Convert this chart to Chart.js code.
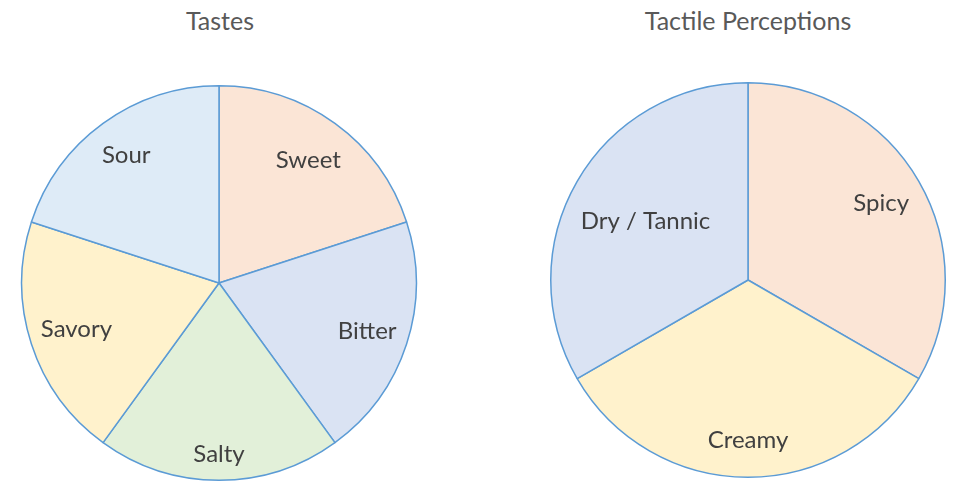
<!DOCTYPE html>
<html>
<head>
<meta charset="UTF-8">
<script src="https://cdn.jsdelivr.net/npm/chart.js"></script>
<style>
  body { margin: 0; width: 968px; height: 498px; background: #fff; position: relative; font-family: Lato, sans-serif; }
  .title { position: absolute; top: 5px; font-size: 25px; color: #595959; text-align: center; width: 440px; }
  .box { position: absolute; top: 83px; width: 400px; height: 400px; }
</style>
</head>
<body>
  <div class="title" style="left:0">Tastes</div>
  <div class="title" style="left:528px">Tactile Perceptions</div>
  <div class="box" style="left:19px"><canvas id="tastes"></canvas></div>
  <div class="box" style="left:548px;top:80px"><canvas id="tactile"></canvas></div>
<script>
const tasteLabels = ['Sweet', 'Bitter', 'Salty', 'Savory', 'Sour'];
const tasteValues = [1, 1, 1, 1, 1];
const tasteColors = ['#FBE5D6', '#DAE3F3', '#E2F0D9', '#FFF2CC', '#DEEBF7'];

const tactileLabels = ['Spicy', 'Creamy', 'Dry / Tannic'];
const tactileValues = [1, 1, 1];
const tactileColors = ['#FBE5D6', '#FFF2CC', '#DAE3F3'];

// how far out from the centre each label sits (fraction of radius)
const tasteLabelR = [0.77, 0.79, 0.87, 0.76, 0.8];
const tactileLabelR = [0.78, 0.81, 0.6];

// draw category names inside each slice
const sliceLabels = {
  id: 'sliceLabels',
  afterDatasetsDraw(chart, args, opts) {
    const ctx = chart.ctx;
    const meta = chart.getDatasetMeta(0);
    ctx.save();
    ctx.font = '24px Lato, sans-serif';
    ctx.fillStyle = '#404040';
    ctx.textAlign = 'center';
    ctx.textBaseline = 'middle';
    meta.data.forEach((arc, i) => {
      const mid = (arc.startAngle + arc.endAngle) / 2;
      const r = arc.outerRadius * opts.radii[i];
      ctx.fillText(chart.data.labels[i], arc.x + Math.cos(mid) * r, arc.y + Math.sin(mid) * r);
    });
    ctx.restore();
  }
};

function makePie(id, labels, values, colors, radii) {
  new Chart(document.getElementById(id), {
    type: 'pie',
    data: {
      labels: labels,
      datasets: [{ data: values, backgroundColor: colors, borderColor: '#5B9BD5', borderWidth: 1.5 }]
    },
    options: {
      responsive: true,
      maintainAspectRatio: false,
      animation: false,
      layout: { padding: 2 },
      plugins: { legend: { display: false }, tooltip: { enabled: false }, sliceLabels: { radii: radii } }
    },
    plugins: [sliceLabels]
  });
}

makePie('tastes', tasteLabels, tasteValues, tasteColors, tasteLabelR);
makePie('tactile', tactileLabels, tactileValues, tactileColors, tactileLabelR);
</script>
</body>
</html>
